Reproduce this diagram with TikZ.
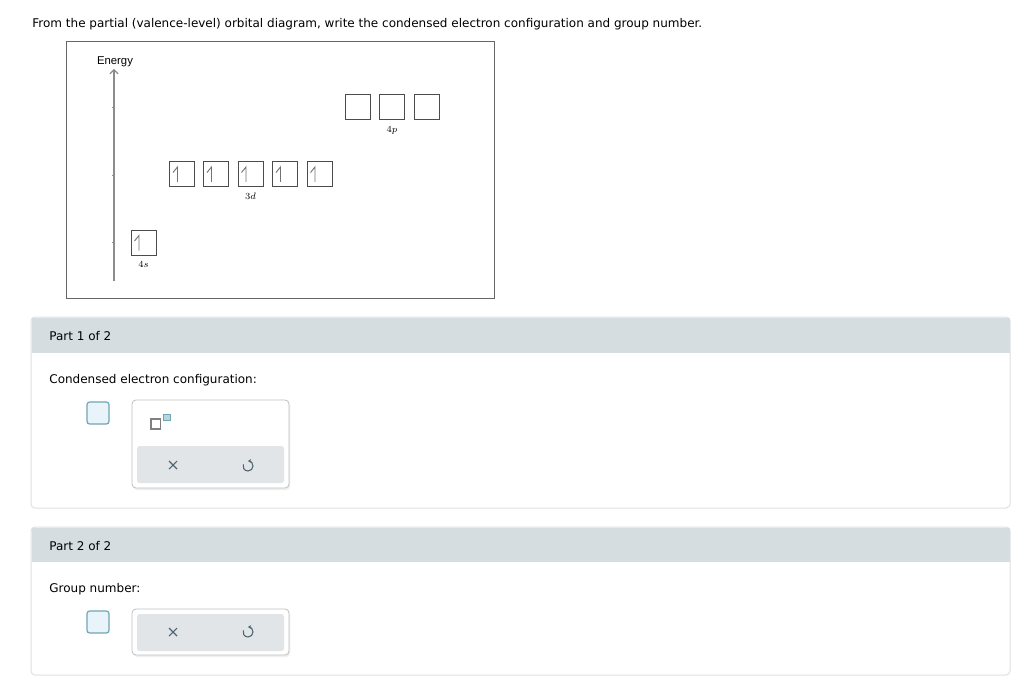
\documentclass[tikz,border=0pt]{standalone}
\usepackage{fontspec}
\setmainfont{DejaVu Sans}
\newfontfamily\plotfont{Liberation Sans}
\usetikzlibrary{arrows.meta}
\usetikzlibrary{positioning}
\usetikzlibrary{shadows}
\definecolor{hdr}{HTML}{D5DDE1}
\definecolor{rim}{HTML}{DDE0E3}
\definecolor{ans}{HTML}{E9F4FA}
\definecolor{tealish}{HTML}{6FA6B4}
\definecolor{bar}{HTML}{E1E5E8}
\definecolor{ink}{HTML}{4D6570}
\def\pagefont{\fontsize{9}{11}\selectfont}

\begin{document}
\begin{tikzpicture}[x=0.75pt,y=-0.75pt,inner sep=0pt,
	semithick,>={Straight Barb[length=3pt]}]
	\tikzstyle{orb}=[draw=black!70,line width=0.75pt,minimum size=18.75pt]
	\tikzstyle{spin}=[path picture={\draw[black!55,line width=0.7pt]
		(path picture bounding box.center) ++(-4.5,7.5) -- ++(0,-15) -- ++(-4.5,5.5);}]
	\tikzstyle{lbl}=[font=\fontsize{7}{8}\selectfont]
	\tikzstyle{txt}=[anchor=west,font=\pagefont]
	\tikzstyle{ansbox}=[draw=tealish,fill=ans,line width=0.9pt,rounded corners=2pt,
		minimum size=16.5pt]
	\tikzstyle{tool}=[draw=black!25,fill=white,line width=0.6pt,rounded corners=3pt,
		drop shadow={opacity=0.12,shadow xshift=1pt,shadow yshift=-1.5pt}]
	\tikzstyle{btn}=[fill=bar,rounded corners=2pt]
	\tikzstyle{undo}=[{Stealth[length=2.3pt,width=3pt]}-,ink,line width=0.8pt]
	\useasboundingbox (0,0) rectangle (1024,681);
	\fill[white] (0,0) rectangle (1024,681);

	\node[txt] (Q) at (32,24) {From the partial (valence-level) orbital diagram, write the condensed electron configuration and group number.};

	% orbital diagram
	\draw[black!60,line width=0.75pt] (66,42) rectangle (494,298);
	\node[font=\plotfont\fontsize{8.5}{9}\selectfont] (E) at (115,62) {Energy};
	\coordinate (Bot) at (114,281);
	\coordinate (Top) at (114,69);
	\draw[->,black!45,line width=0.8pt] (Bot) -- (Top);
	\foreach \y in {107.5,175,242.5}
		\draw[black!45,line width=0.6pt] (112,\y) -- (114,\y);

	\node[orb,spin] (S) at (143.5,243) {};
	\node[orb,spin] (D1) at (182,174.5) {};
	\node[orb,spin] (D2) at (216,174.5) {};
	\node[orb,spin] (D3) at (250.5,174.5) {};
	\node[orb,spin] (D4) at (285,174.5) {};
	\node[orb,spin] (D5) at (319.5,174.5) {};
	\node[orb] (P1) at (358,107.5) {};
	\node[orb] (P2) at (392,107.5) {};
	\node[orb] (P3) at (426.5,107.5) {};
	\node[lbl,below=4pt of S] (Sl) {$4s$};
	\node[lbl,below=4pt of D3] (Dl) {$3d$};
	\node[lbl,below=4pt of P2] (Pl) {$4p$};

	% part 1
	\draw[rim,line width=0.75pt,rounded corners=3pt] (31,317) rectangle (1010,508);
	\fill[hdr] (31.5,317.5) rectangle (1009.5,352.5);
	\node[txt] (H1) at (49,336.5) {Part 1 of 2};
	\node[txt] (C1) at (49,380) {Condensed electron configuration:};
	\node[ansbox] (A1) at (98,413) {};
	\draw[tool] (132,400) rectangle (289,488);
	\fill[btn] (137,446) rectangle (284,483);
	\draw[black!50,fill=white,line width=0.8pt] (151,419) rectangle (160.5,429);
	\draw[tealish,fill=ans!60!tealish,line width=0.7pt] (163.5,414) rectangle (170,420.5);
	\draw[ink,line width=0.8pt] (169,461) -- (177,469) (169,469) -- (177,461);
	\draw[undo] (248,461) arc[start angle=90,end angle=-200,radius=3.75pt];

	% part 2
	\draw[rim,line width=0.75pt,rounded corners=3pt] (31,527) rectangle (1010,675);
	\fill[hdr] (31.5,527.5) rectangle (1009.5,562);
	\node[txt] (H2) at (49,546.5) {Part 2 of 2};
	\node[txt] (C2) at (49,589) {Group number:};
	\node[ansbox] (A2) at (98,622) {};
	\draw[tool] (132,609) rectangle (289,655);
	\fill[btn] (137,614) rectangle (284,651);
	\draw[ink,line width=0.8pt] (169,628) -- (177,636) (169,636) -- (177,628);
	\draw[undo] (248,627) arc[start angle=90,end angle=-200,radius=3.75pt];
\end{tikzpicture}
\end{document}
